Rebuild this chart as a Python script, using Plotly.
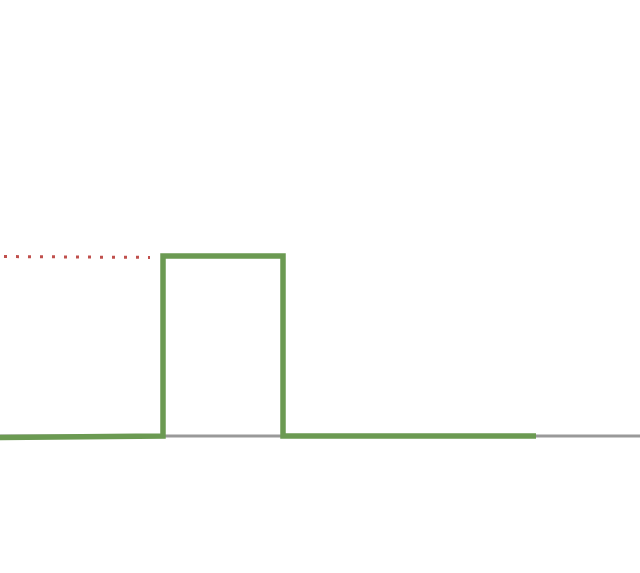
import plotly.graph_objects as go

# step signal (time, level)
signal_t = [0, 87, 163, 163, 283, 283, 356, 536]
signal_v = [-0.008, 0, 0, 1, 1, 0, 0, 0]

# baseline
base_t = [0, 640]
base_v = [0, 0]

# dotted reference level
ref_t = [4, 150]
ref_v = [0.997, 0.992]

fig = go.Figure()
fig.add_trace(go.Scatter(x=base_t, y=base_v, mode="lines",
                         line=dict(color="#999999", width=3), hoverinfo="skip"))
fig.add_trace(go.Scatter(x=ref_t, y=ref_v, mode="lines",
                         line=dict(color="#c0504d", width=3, dash="3px,9px"), hoverinfo="skip"))
fig.add_trace(go.Scatter(x=signal_t, y=signal_v, mode="lines",
                         line=dict(color="#6b9a52", width=5.5), hoverinfo="skip"))

fig.update_layout(
    width=640, height=573,
    margin=dict(l=0, r=0, t=0, b=0),
    paper_bgcolor="white", plot_bgcolor="white",
    showlegend=False,
)
fig.update_xaxes(range=[0, 640], visible=False)
fig.update_yaxes(range=[-137 / 180, 436 / 180], visible=False)

fig.write_html("out.html", config={"displayModeBar": False},
               post_script="document.body.style.margin='0px';")
